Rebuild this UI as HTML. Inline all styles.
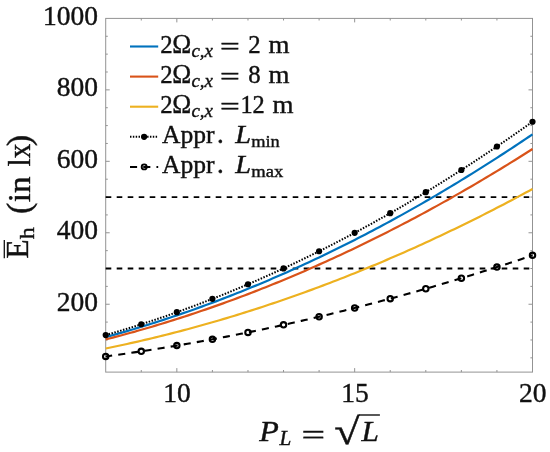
<!DOCTYPE html>
<html lang="en"><head><meta charset="utf-8"><title>Average illuminance vs P_L</title>
<style>html,body{margin:0;padding:0;background:#fff}svg{display:block}text{font-family:"Liberation Serif", "DejaVu Serif", serif;fill:#111;stroke:#111;stroke-width:0.4px}</style></head><body>
<svg width="550" height="452" viewBox="0 0 550 452">
<rect width="550" height="452" fill="#fff"/>
<defs><clipPath id="ax"><rect x="101.7" y="18.4" width="434.8" height="353.7"/></clipPath></defs>
<g stroke="#939393" stroke-width="1" fill="none" shape-rendering="auto">
<rect x="105.7" y="18.4" width="426.8" height="353.7"/>
<path d="M141.27 372.10v-2.1M141.27 18.40v2.1"/>
<path d="M176.83 372.10v-4.0M176.83 18.40v4.0"/>
<path d="M212.40 372.10v-2.1M212.40 18.40v2.1"/>
<path d="M247.97 372.10v-2.1M247.97 18.40v2.1"/>
<path d="M283.53 372.10v-2.1M283.53 18.40v2.1"/>
<path d="M319.10 372.10v-2.1M319.10 18.40v2.1"/>
<path d="M354.67 372.10v-4.0M354.67 18.40v4.0"/>
<path d="M390.23 372.10v-2.1M390.23 18.40v2.1"/>
<path d="M425.80 372.10v-2.1M425.80 18.40v2.1"/>
<path d="M461.37 372.10v-2.1M461.37 18.40v2.1"/>
<path d="M496.93 372.10v-2.1M496.93 18.40v2.1"/>
<path d="M105.70 357.83h2.1M532.50 357.83h-2.1"/>
<path d="M105.70 339.97h2.1M532.50 339.97h-2.1"/>
<path d="M105.70 322.10h2.1M532.50 322.10h-2.1"/>
<path d="M105.70 304.24h4.0M532.50 304.24h-4.0"/>
<path d="M105.70 286.38h2.1M532.50 286.38h-2.1"/>
<path d="M105.70 268.51h2.1M532.50 268.51h-2.1"/>
<path d="M105.70 250.65h2.1M532.50 250.65h-2.1"/>
<path d="M105.70 232.78h4.0M532.50 232.78h-4.0"/>
<path d="M105.70 214.92h2.1M532.50 214.92h-2.1"/>
<path d="M105.70 197.05h2.1M532.50 197.05h-2.1"/>
<path d="M105.70 179.19h2.1M532.50 179.19h-2.1"/>
<path d="M105.70 161.32h4.0M532.50 161.32h-4.0"/>
<path d="M105.70 143.46h2.1M532.50 143.46h-2.1"/>
<path d="M105.70 125.59h2.1M532.50 125.59h-2.1"/>
<path d="M105.70 107.72h2.1M532.50 107.72h-2.1"/>
<path d="M105.70 89.86h4.0M532.50 89.86h-4.0"/>
<path d="M105.70 72.00h2.1M532.50 72.00h-2.1"/>
<path d="M105.70 54.13h2.1M532.50 54.13h-2.1"/>
<path d="M105.70 36.27h2.1M532.50 36.27h-2.1"/>
</g>
<path d="M105.70 197.05H532.50" stroke="#000" stroke-width="1.8" stroke-dasharray="5.6 5.4" fill="none"/>
<path d="M105.70 268.51H532.50" stroke="#000" stroke-width="1.8" stroke-dasharray="5.6 5.4" fill="none"/>
<g fill="none" stroke-linejoin="round" clip-path="url(#ax)">
<path d="M105.70 337.08 L109.26 336.11 L112.81 335.12 L116.37 334.13 L119.93 333.12 L123.48 332.10 L127.04 331.07 L130.60 330.02 L134.15 328.97 L137.71 327.90 L141.27 326.82 L144.82 325.73 L148.38 324.62 L151.94 323.51 L155.49 322.38 L159.05 321.24 L162.61 320.08 L166.16 318.92 L169.72 317.74 L173.28 316.55 L176.83 315.35 L180.39 314.14 L183.95 312.91 L187.50 311.68 L191.06 310.43 L194.62 309.17 L198.17 307.89 L201.73 306.61 L205.29 305.31 L208.84 304.00 L212.40 302.68 L215.96 301.35 L219.51 300.00 L223.07 298.64 L226.63 297.27 L230.18 295.89 L233.74 294.50 L237.30 293.09 L240.85 291.67 L244.41 290.24 L247.97 288.80 L251.52 287.34 L255.08 285.88 L258.64 284.40 L262.19 282.91 L265.75 281.41 L269.31 279.89 L272.86 278.36 L276.42 276.83 L279.98 275.27 L283.53 273.71 L287.09 272.14 L290.65 270.55 L294.20 268.95 L297.76 267.34 L301.32 265.72 L304.87 264.08 L308.43 262.43 L311.99 260.77 L315.54 259.10 L319.10 257.42 L322.66 255.72 L326.21 254.01 L329.77 252.29 L333.33 250.56 L336.88 248.82 L340.44 247.06 L344.00 245.29 L347.55 243.51 L351.11 241.72 L354.67 239.92 L358.22 238.10 L361.78 236.27 L365.34 234.43 L368.89 232.58 L372.45 230.71 L376.01 228.84 L379.56 226.95 L383.12 225.05 L386.68 223.13 L390.23 221.21 L393.79 219.27 L397.35 217.32 L400.90 215.36 L404.46 213.39 L408.02 211.40 L411.57 209.41 L415.13 207.40 L418.69 205.37 L422.24 203.34 L425.80 201.29 L429.36 199.24 L432.91 197.17 L436.47 195.08 L440.03 192.99 L443.58 190.88 L447.14 188.77 L450.70 186.64 L454.25 184.49 L457.81 182.34 L461.37 180.17 L464.92 177.99 L468.48 175.80 L472.04 173.60 L475.59 171.39 L479.15 169.16 L482.71 166.92 L486.26 164.67 L489.82 162.41 L493.38 160.13 L496.93 157.84 L500.49 155.54 L504.05 153.23 L507.60 150.91 L511.16 148.57 L514.72 146.23 L518.27 143.87 L521.83 141.50 L525.39 139.11 L528.94 136.72 L532.50 134.31" stroke="#0072BD" stroke-width="2.2"/>
<path d="M105.70 339.43 L109.26 338.52 L112.81 337.60 L116.37 336.66 L119.93 335.72 L123.48 334.76 L127.04 333.79 L130.60 332.81 L134.15 331.82 L137.71 330.81 L141.27 329.80 L144.82 328.77 L148.38 327.74 L151.94 326.69 L155.49 325.63 L159.05 324.56 L162.61 323.47 L166.16 322.38 L169.72 321.28 L173.28 320.16 L176.83 319.03 L180.39 317.89 L183.95 316.74 L187.50 315.58 L191.06 314.41 L194.62 313.22 L198.17 312.03 L201.73 310.82 L205.29 309.60 L208.84 308.37 L212.40 307.13 L215.96 305.88 L219.51 304.62 L223.07 303.34 L226.63 302.05 L230.18 300.76 L233.74 299.45 L237.30 298.13 L240.85 296.80 L244.41 295.45 L247.97 294.10 L251.52 292.73 L255.08 291.36 L258.64 289.97 L262.19 288.57 L265.75 287.16 L269.31 285.73 L272.86 284.30 L276.42 282.86 L279.98 281.40 L283.53 279.93 L287.09 278.45 L290.65 276.96 L294.20 275.46 L297.76 273.95 L301.32 272.42 L304.87 270.89 L308.43 269.34 L311.99 267.78 L315.54 266.21 L319.10 264.63 L322.66 263.04 L326.21 261.44 L329.77 259.82 L333.33 258.19 L336.88 256.56 L340.44 254.91 L344.00 253.25 L347.55 251.57 L351.11 249.89 L354.67 248.20 L358.22 246.49 L361.78 244.77 L365.34 243.05 L368.89 241.31 L372.45 239.56 L376.01 237.79 L379.56 236.02 L383.12 234.23 L386.68 232.44 L390.23 230.63 L393.79 228.81 L397.35 226.98 L400.90 225.14 L404.46 223.29 L408.02 221.42 L411.57 219.55 L415.13 217.66 L418.69 215.76 L422.24 213.85 L425.80 211.93 L429.36 210.00 L432.91 208.05 L436.47 206.10 L440.03 204.13 L443.58 202.15 L447.14 200.17 L450.70 198.17 L454.25 196.15 L457.81 194.13 L461.37 192.10 L464.92 190.05 L468.48 187.99 L472.04 185.93 L475.59 183.85 L479.15 181.75 L482.71 179.65 L486.26 177.54 L489.82 175.41 L493.38 173.28 L496.93 171.13 L500.49 168.97 L504.05 166.80 L507.60 164.62 L511.16 162.43 L514.72 160.22 L518.27 158.01 L521.83 155.78 L525.39 153.54 L528.94 151.29 L532.50 149.03" stroke="#D95319" stroke-width="2.2"/>
<path d="M105.70 348.46 L109.26 347.73 L112.81 347.00 L116.37 346.25 L119.93 345.49 L123.48 344.73 L127.04 343.95 L130.60 343.16 L134.15 342.37 L137.71 341.56 L141.27 340.74 L144.82 339.92 L148.38 339.08 L151.94 338.23 L155.49 337.37 L159.05 336.50 L162.61 335.63 L166.16 334.74 L169.72 333.84 L173.28 332.93 L176.83 332.01 L180.39 331.08 L183.95 330.15 L187.50 329.20 L191.06 328.24 L194.62 327.27 L198.17 326.29 L201.73 325.30 L205.29 324.30 L208.84 323.29 L212.40 322.27 L215.96 321.24 L219.51 320.20 L223.07 319.15 L226.63 318.09 L230.18 317.02 L233.74 315.94 L237.30 314.85 L240.85 313.75 L244.41 312.64 L247.97 311.51 L251.52 310.38 L255.08 309.24 L258.64 308.09 L262.19 306.93 L265.75 305.76 L269.31 304.57 L272.86 303.38 L276.42 302.18 L279.98 300.97 L283.53 299.74 L287.09 298.51 L290.65 297.27 L294.20 296.02 L297.76 294.75 L301.32 293.48 L304.87 292.20 L308.43 290.90 L311.99 289.60 L315.54 288.29 L319.10 286.96 L322.66 285.63 L326.21 284.28 L329.77 282.93 L333.33 281.56 L336.88 280.19 L340.44 278.81 L344.00 277.41 L347.55 276.01 L351.11 274.59 L354.67 273.17 L358.22 271.73 L361.78 270.28 L365.34 268.83 L368.89 267.36 L372.45 265.89 L376.01 264.40 L379.56 262.91 L383.12 261.40 L386.68 259.88 L390.23 258.36 L393.79 256.82 L397.35 255.27 L400.90 253.72 L404.46 252.15 L408.02 250.57 L411.57 248.98 L415.13 247.39 L418.69 245.78 L422.24 244.16 L425.80 242.53 L429.36 240.90 L432.91 239.25 L436.47 237.59 L440.03 235.92 L443.58 234.24 L447.14 232.55 L450.70 230.85 L454.25 229.15 L457.81 227.43 L461.37 225.70 L464.92 223.96 L468.48 222.21 L472.04 220.45 L475.59 218.68 L479.15 216.90 L482.71 215.11 L486.26 213.31 L489.82 211.50 L493.38 209.68 L496.93 207.85 L500.49 206.01 L504.05 204.16 L507.60 202.30 L511.16 200.42 L514.72 198.54 L518.27 196.65 L521.83 194.75 L525.39 192.84 L528.94 190.92 L532.50 188.99" stroke="#EDB120" stroke-width="2.2"/>
</g>
<path d="M105.70 335.06 L109.26 334.04 L112.81 333.01 L116.37 331.96 L119.93 330.90 L123.48 329.83 L127.04 328.74 L130.60 327.64 L134.15 326.53 L137.71 325.41 L141.27 324.27 L144.82 323.12 L148.38 321.96 L151.94 320.79 L155.49 319.60 L159.05 318.40 L162.61 317.19 L166.16 315.96 L169.72 314.72 L173.28 313.47 L176.83 312.21 L180.39 310.93 L183.95 309.64 L187.50 308.34 L191.06 307.03 L194.62 305.70 L198.17 304.36 L201.73 303.01 L205.29 301.64 L208.84 300.26 L212.40 298.87 L215.96 297.47 L219.51 296.06 L223.07 294.63 L226.63 293.19 L230.18 291.73 L233.74 290.26 L237.30 288.79 L240.85 287.29 L244.41 285.79 L247.97 284.27 L251.52 282.74 L255.08 281.20 L258.64 279.64 L262.19 278.07 L265.75 276.49 L269.31 274.90 L272.86 273.29 L276.42 271.67 L279.98 270.04 L283.53 268.40 L287.09 266.74 L290.65 265.07 L294.20 263.39 L297.76 261.69 L301.32 259.99 L304.87 258.26 L308.43 256.53 L311.99 254.79 L315.54 253.03 L319.10 251.26 L322.66 249.47 L326.21 247.67 L329.77 245.86 L333.33 244.04 L336.88 242.21 L340.44 240.36 L344.00 238.50 L347.55 236.63 L351.11 234.74 L354.67 232.84 L358.22 230.93 L361.78 229.01 L365.34 227.07 L368.89 225.12 L372.45 223.16 L376.01 221.19 L379.56 219.20 L383.12 217.20 L386.68 215.19 L390.23 213.16 L393.79 211.12 L397.35 209.07 L400.90 207.01 L404.46 204.93 L408.02 202.84 L411.57 200.74 L415.13 198.63 L418.69 196.50 L422.24 194.36 L425.80 192.21 L429.36 190.04 L432.91 187.86 L436.47 185.67 L440.03 183.47 L443.58 181.26 L447.14 179.03 L450.70 176.79 L454.25 174.53 L457.81 172.26 L461.37 169.99 L464.92 167.69 L468.48 165.39 L472.04 163.07 L475.59 160.74 L479.15 158.40 L482.71 156.04 L486.26 153.67 L489.82 151.29 L493.38 148.90 L496.93 146.49 L500.49 144.07 L504.05 141.64 L507.60 139.20 L511.16 136.74 L514.72 134.27 L518.27 131.79 L521.83 129.29 L525.39 126.79 L528.94 124.26 L532.50 121.73" stroke="#000" stroke-width="2.0" stroke-dasharray="1.5 1.5" fill="none"/>
<path d="M105.70 356.45 L109.26 355.96 L112.81 355.47 L116.37 354.97 L119.93 354.47 L123.48 353.96 L127.04 353.45 L130.60 352.93 L134.15 352.40 L137.71 351.87 L141.27 351.33 L144.82 350.79 L148.38 350.24 L151.94 349.68 L155.49 349.12 L159.05 348.55 L162.61 347.97 L166.16 347.39 L169.72 346.81 L173.28 346.21 L176.83 345.62 L180.39 345.01 L183.95 344.40 L187.50 343.78 L191.06 343.16 L194.62 342.53 L198.17 341.90 L201.73 341.26 L205.29 340.61 L208.84 339.96 L212.40 339.30 L215.96 338.63 L219.51 337.96 L223.07 337.28 L226.63 336.60 L230.18 335.91 L233.74 335.22 L237.30 334.52 L240.85 333.81 L244.41 333.10 L247.97 332.38 L251.52 331.65 L255.08 330.92 L258.64 330.18 L262.19 329.44 L265.75 328.69 L269.31 327.94 L272.86 327.18 L276.42 326.41 L279.98 325.64 L283.53 324.86 L287.09 324.07 L290.65 323.28 L294.20 322.48 L297.76 321.68 L301.32 320.87 L304.87 320.06 L308.43 319.23 L311.99 318.41 L315.54 317.57 L319.10 316.73 L322.66 315.89 L326.21 315.04 L329.77 314.18 L333.33 313.32 L336.88 312.45 L340.44 311.57 L344.00 310.69 L347.55 309.80 L351.11 308.91 L354.67 308.01 L358.22 307.10 L361.78 306.19 L365.34 305.27 L368.89 304.35 L372.45 303.42 L376.01 302.49 L379.56 301.54 L383.12 300.60 L386.68 299.64 L390.23 298.68 L393.79 297.72 L397.35 296.75 L400.90 295.77 L404.46 294.78 L408.02 293.79 L411.57 292.80 L415.13 291.80 L418.69 290.79 L422.24 289.78 L425.80 288.76 L429.36 287.73 L432.91 286.70 L436.47 285.66 L440.03 284.62 L443.58 283.57 L447.14 282.51 L450.70 281.45 L454.25 280.38 L457.81 279.31 L461.37 278.23 L464.92 277.14 L468.48 276.05 L472.04 274.95 L475.59 273.85 L479.15 272.74 L482.71 271.62 L486.26 270.50 L489.82 269.37 L493.38 268.23 L496.93 267.09 L500.49 265.95 L504.05 264.80 L507.60 263.64 L511.16 262.47 L514.72 261.30 L518.27 260.13 L521.83 258.94 L525.39 257.76 L528.94 256.56 L532.50 255.36" stroke="#000" stroke-width="2.1" stroke-dasharray="7.1 6.16" stroke-dashoffset="0.6" fill="none"/>
<circle cx="105.70" cy="335.06" r="3.1" fill="#000"/>
<circle cx="141.27" cy="324.27" r="3.1" fill="#000"/>
<circle cx="176.83" cy="312.21" r="3.1" fill="#000"/>
<circle cx="212.40" cy="298.87" r="3.1" fill="#000"/>
<circle cx="247.97" cy="284.27" r="3.1" fill="#000"/>
<circle cx="283.53" cy="268.40" r="3.1" fill="#000"/>
<circle cx="319.10" cy="251.26" r="3.1" fill="#000"/>
<circle cx="354.67" cy="232.84" r="3.1" fill="#000"/>
<circle cx="390.23" cy="213.16" r="3.1" fill="#000"/>
<circle cx="425.80" cy="192.21" r="3.1" fill="#000"/>
<circle cx="461.37" cy="169.99" r="3.1" fill="#000"/>
<circle cx="496.93" cy="146.49" r="3.1" fill="#000"/>
<circle cx="532.50" cy="121.73" r="3.1" fill="#000"/>
<circle cx="105.70" cy="356.45" r="2.7" fill="none" stroke="#000" stroke-width="2.1"/>
<circle cx="141.27" cy="351.33" r="2.7" fill="none" stroke="#000" stroke-width="2.1"/>
<circle cx="176.83" cy="345.62" r="2.7" fill="none" stroke="#000" stroke-width="2.1"/>
<circle cx="212.40" cy="339.30" r="2.7" fill="none" stroke="#000" stroke-width="2.1"/>
<circle cx="247.97" cy="332.38" r="2.7" fill="none" stroke="#000" stroke-width="2.1"/>
<circle cx="283.53" cy="324.86" r="2.7" fill="none" stroke="#000" stroke-width="2.1"/>
<circle cx="319.10" cy="316.73" r="2.7" fill="none" stroke="#000" stroke-width="2.1"/>
<circle cx="354.67" cy="308.01" r="2.7" fill="none" stroke="#000" stroke-width="2.1"/>
<circle cx="390.23" cy="298.68" r="2.7" fill="none" stroke="#000" stroke-width="2.1"/>
<circle cx="425.80" cy="288.76" r="2.7" fill="none" stroke="#000" stroke-width="2.1"/>
<circle cx="461.37" cy="278.23" r="2.7" fill="none" stroke="#000" stroke-width="2.1"/>
<circle cx="496.93" cy="267.09" r="2.7" fill="none" stroke="#000" stroke-width="2.1"/>
<circle cx="532.50" cy="255.36" r="2.7" fill="none" stroke="#000" stroke-width="2.1"/>
<text x="98.0" y="310.6" font-size="27.5" letter-spacing="0" text-anchor="end">200</text>
<text x="98.0" y="239.2" font-size="27.5" letter-spacing="0" text-anchor="end">400</text>
<text x="98.0" y="167.7" font-size="27.5" letter-spacing="0" text-anchor="end">600</text>
<text x="98.0" y="96.3" font-size="27.5" letter-spacing="0" text-anchor="end">800</text>
<text x="98.0" y="24.8" font-size="27.5" letter-spacing="0" text-anchor="end">1000</text>
<text x="177.0" y="402.2" font-size="27.5" letter-spacing="0" text-anchor="middle">10</text>
<text x="354.9" y="402.2" font-size="27.5" letter-spacing="0" text-anchor="middle">15</text>
<text x="532.7" y="402.2" font-size="27.5" letter-spacing="0" text-anchor="middle">20</text>
<path d="M130 46.5H158.2" stroke="#0072BD" stroke-width="2.1"/>
<text x="160.2" y="52.5" font-size="25.6" textLength="12.4" lengthAdjust="spacingAndGlyphs">2</text>
<text x="172.3" y="52.5" font-size="27.5" textLength="19" lengthAdjust="spacingAndGlyphs">Ω</text>
<text x="191.4" y="56.7" font-size="18" font-style="italic" textLength="21.6" lengthAdjust="spacingAndGlyphs">c,x</text>
<text x="220.1" y="55.2" font-size="25" textLength="19.8" lengthAdjust="spacingAndGlyphs">=</text>
<text x="248.2" y="52.5" font-size="25" textLength="12.4" lengthAdjust="spacingAndGlyphs">2</text>
<text x="268.6" y="52.5" font-size="25" textLength="21" lengthAdjust="spacingAndGlyphs">m</text>
<path d="M130 76.6H158.2" stroke="#D95319" stroke-width="2.1"/>
<text x="160.2" y="82.6" font-size="25.6" textLength="12.4" lengthAdjust="spacingAndGlyphs">2</text>
<text x="172.3" y="82.6" font-size="27.5" textLength="19" lengthAdjust="spacingAndGlyphs">Ω</text>
<text x="191.4" y="86.8" font-size="18" font-style="italic" textLength="21.6" lengthAdjust="spacingAndGlyphs">c,x</text>
<text x="220.1" y="85.3" font-size="25" textLength="19.8" lengthAdjust="spacingAndGlyphs">=</text>
<text x="248.2" y="82.6" font-size="25" textLength="12.4" lengthAdjust="spacingAndGlyphs">8</text>
<text x="268.6" y="82.6" font-size="25" textLength="21" lengthAdjust="spacingAndGlyphs">m</text>
<path d="M130 106.7H158.2" stroke="#EDB120" stroke-width="2.1"/>
<text x="160.2" y="112.7" font-size="25.6" textLength="12.4" lengthAdjust="spacingAndGlyphs">2</text>
<text x="172.3" y="112.7" font-size="27.5" textLength="19" lengthAdjust="spacingAndGlyphs">Ω</text>
<text x="191.4" y="116.9" font-size="18" font-style="italic" textLength="21.6" lengthAdjust="spacingAndGlyphs">c,x</text>
<text x="220.1" y="115.4" font-size="25" textLength="19.8" lengthAdjust="spacingAndGlyphs">=</text>
<text x="240.4" y="112.7" font-size="25" textLength="24.4" lengthAdjust="spacingAndGlyphs">12</text>
<text x="272.6" y="112.7" font-size="25" textLength="21" lengthAdjust="spacingAndGlyphs">m</text>
<path d="M130 136.8H158.2" stroke="#000" stroke-width="2.0" stroke-dasharray="1.45 1.4"/>
<circle cx="144.1" cy="136.8" r="3.1" fill="#000"/>
<text x="162" y="142.8" font-size="25" textLength="52.6" lengthAdjust="spacingAndGlyphs">Appr</text>
<text x="217.1" y="142.8" font-size="27">.</text>
<text x="235.2" y="142.8" font-size="25" font-style="italic" textLength="15.8" lengthAdjust="spacingAndGlyphs">L</text>
<text x="251.2" y="146.5" font-size="17.6" textLength="28.6" lengthAdjust="spacingAndGlyphs">min</text>
<path d="M130 166.9H158.2" stroke="#000" stroke-width="2.0" stroke-dasharray="7.1 6.13"/>
<circle cx="144.2" cy="166.9" r="2.5" fill="none" stroke="#000" stroke-width="1.9"/>
<text x="162" y="172.9" font-size="25" textLength="52.6" lengthAdjust="spacingAndGlyphs">Appr</text>
<text x="217.1" y="172.9" font-size="27">.</text>
<text x="235.2" y="172.9" font-size="25" font-style="italic" textLength="15.8" lengthAdjust="spacingAndGlyphs">L</text>
<text x="251.2" y="176.6" font-size="17.6" textLength="32" lengthAdjust="spacingAndGlyphs">max</text>
<text x="259.3" y="440.8" font-size="30" font-style="italic" textLength="19.6" lengthAdjust="spacingAndGlyphs">P</text>
<text x="279.6" y="445.4" font-size="20" font-style="italic" textLength="11.8" lengthAdjust="spacingAndGlyphs">L</text>
<text x="301.4" y="444.6" font-size="30" textLength="23.6" lengthAdjust="spacingAndGlyphs">=</text>
<text transform="translate(334.3 444) scale(1.246 1)" x="0" y="0" font-size="37.1">√</text>
<path d="M358.6 415H379.9" stroke="#111" stroke-width="1.4"/>
<text x="361.6" y="440.8" font-size="30" font-style="italic" textLength="17.4" lengthAdjust="spacingAndGlyphs">L</text>
<g transform="translate(29.7 0) rotate(-90)">
<text x="-258.7" y="-1.3" font-size="31" textLength="19.4" lengthAdjust="spacingAndGlyphs">E</text>
<path d="M-258.3 -25.4H-240.1" stroke="#111" stroke-width="1.3"/>
<text x="-239.2" y="4.6" font-size="21" textLength="12.0" lengthAdjust="spacingAndGlyphs">h</text>
<text x="-213.9" y="0.0" font-size="34.5" textLength="11.5" lengthAdjust="spacingAndGlyphs">(</text>
<text x="-202.2" y="0.0" font-size="31.5" textLength="25.8" lengthAdjust="spacingAndGlyphs">in</text>
<text x="-166.4" y="0.0" font-size="31.5" textLength="22.6" lengthAdjust="spacingAndGlyphs">lx</text>
<text x="-146.3" y="0.0" font-size="34.5" textLength="11.5" lengthAdjust="spacingAndGlyphs">)</text>
</g>
</svg></body></html>
